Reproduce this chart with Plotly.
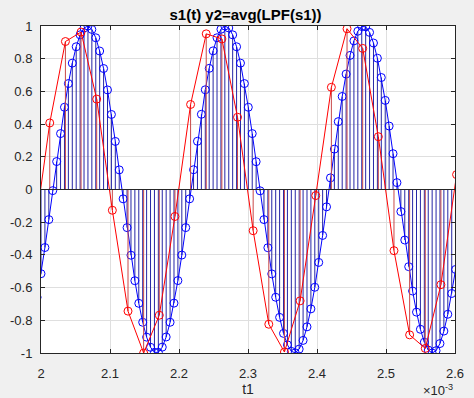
import plotly.graph_objects as go

# s1 samples (time in units of 1e-3 s)
t_s1 = [1.99433, 2.00000, 2.00567, 2.01134, 2.01701, 2.02268, 2.02834, 2.03401, 2.03968, 2.04535,
        2.05102, 2.05669, 2.06236, 2.06803, 2.07370, 2.07937, 2.08503, 2.09070, 2.09637, 2.10204,
        2.10771, 2.11338, 2.11905, 2.12472, 2.13039, 2.13605, 2.14172, 2.14739, 2.15306, 2.15873,
        2.16440, 2.17007, 2.17574, 2.18141, 2.18707, 2.19274, 2.19841, 2.20408, 2.20975, 2.21542,
        2.22109, 2.22676, 2.23243, 2.23810, 2.24376, 2.24943, 2.25510, 2.26077, 2.26644, 2.27211,
        2.27778, 2.28345, 2.28912, 2.29478, 2.30045, 2.30612, 2.31179, 2.31746, 2.32313, 2.32880,
        2.33447, 2.34014, 2.34580, 2.35147, 2.35714, 2.36281, 2.36848, 2.37415, 2.37982, 2.38549,
        2.39116, 2.39683, 2.40249, 2.40816, 2.41383, 2.41950, 2.42517, 2.43084, 2.43651, 2.44218,
        2.44785, 2.45351, 2.45918, 2.46485, 2.47052, 2.47619, 2.48186, 2.48753, 2.49320, 2.49887,
        2.50454, 2.51020, 2.51587, 2.52154, 2.52721, 2.53288, 2.53855, 2.54422, 2.54989, 2.55556,
        2.56122, 2.56689, 2.57256, 2.57823, 2.58390, 2.58957, 2.59524, 2.60091]
s1 = [-0.659, -0.515, -0.355, -0.184, -0.007, 0.171, 0.342, 0.503, 0.648, 0.773,
      0.873, 0.946, 0.988, 1.000, 0.979, 0.928, 0.847, 0.740, 0.609, 0.459,
      0.294, 0.120, -0.057, -0.233, -0.402, -0.558, -0.696, -0.812, -0.903, -0.965,
      -0.996, -0.996, -0.964, -0.902, -0.812, -0.695, -0.557, -0.401, -0.233, -0.057,
      0.121, 0.295, 0.460, 0.610, 0.741, 0.848, 0.928, 0.980, 1.000, 0.988,
      0.946, 0.873, 0.773, 0.648, 0.503, 0.342, 0.170, -0.008, -0.184, -0.356,
      -0.516, -0.659, -0.782, -0.880, -0.950, -0.990, -0.999, -0.976, -0.923, -0.840,
      -0.730, -0.598, -0.446, -0.281, -0.106, 0.071, 0.247, 0.415, 0.569, 0.706,
      0.820, 0.909, 0.968, 0.997, 0.995, 0.961, 0.896, 0.803, 0.685, 0.545,
      0.388, 0.219, 0.042, -0.135, -0.309, -0.472, -0.621, -0.750, -0.855, -0.934,
      -0.982, -1.000, -0.986, -0.942, -0.866, -0.763, -0.636, -0.489]

# y2 samples
t_y2 = [1.99002, 2.01270, 2.03538, 2.05805, 2.08073, 2.10340, 2.12608, 2.14875, 2.17143, 2.19411,
        2.21678, 2.23946, 2.26213, 2.28481, 2.30748, 2.33016, 2.35283, 2.37551, 2.39819, 2.42086,
        2.44354, 2.46621, 2.48889, 2.51156, 2.53424, 2.55692, 2.57959, 2.60227]
y2 = [-0.289, 0.407, 0.905, 0.963, 0.553, -0.127, -0.744, -1.000, -0.769, -0.165,
      0.520, 0.952, 0.921, 0.442, -0.252, -0.824, -0.994, -0.681, -0.037, 0.625,
      0.983, 0.863, 0.323, -0.374, -0.889, -0.972, -0.582, 0.091]

x_ticks = [2.0, 2.1, 2.2, 2.3, 2.4, 2.5, 2.6]
x_ticklabels = ["2", "2.1", "2.2", "2.3", "2.4", "2.5", "2.6"]
y_ticks = [-1, -0.8, -0.6, -0.4, -0.2, 0, 0.2, 0.4, 0.6, 0.8, 1]
y_ticklabels = ["-1", "-0.8", "-0.6", "-0.4", "-0.2", "0", "0.2", "0.4", "0.6", "0.8", "1"]

BLUE = "#0000ff"
RED = "#ff0000"
BLUE_STEM = "#2626a6"
RED_STEM = "#c84848"
FONT = "Liberation Sans, Arial, sans-serif"
AX = "#262626"


def stems(t, v):
    xs, ys = [], []
    for a, b in zip(t, v):
        xs += [a, a, None]
        ys += [0, b, None]
    return xs, ys


fig = go.Figure()
sx, sy = stems(t_s1, s1)
fig.add_trace(go.Scatter(x=sx, y=sy, mode="lines", line=dict(color=BLUE_STEM, width=1),
                         hoverinfo="skip", showlegend=False))
fig.add_trace(go.Scatter(x=t_s1, y=s1, mode="lines+markers", line=dict(color=BLUE, width=1),
                         marker=dict(symbol="circle-open", size=8, color=BLUE, line=dict(width=1)),
                         showlegend=False))
rx, ry = stems(t_y2, y2)
fig.add_trace(go.Scatter(x=rx, y=ry, mode="lines", line=dict(color=RED_STEM, width=1),
                         hoverinfo="skip", showlegend=False))
fig.add_trace(go.Scatter(x=t_y2, y=y2, mode="lines+markers", line=dict(color=RED, width=1),
                         marker=dict(symbol="circle-open", size=8, color=RED, line=dict(width=1)),
                         showlegend=False))
# stem baseline
fig.add_trace(go.Scatter(x=[x_ticks[0], x_ticks[-1]], y=[0, 0], mode="lines",
                         line=dict(color=AX, width=1), hoverinfo="skip", showlegend=False))

fig.update_layout(
    width=474, height=398,
    margin=dict(l=41, r=19, t=26, b=45),
    paper_bgcolor="#f0f0f0", plot_bgcolor="#ffffff",
    font=dict(family=FONT, size=13, color=AX),
    title=dict(text="<b>s1(t) y2=avg(LPF(s1))</b>", x=0.518, xanchor="center",
               y=0.962, yanchor="middle", font=dict(size=15, color="#000000")),
)
fig.update_xaxes(range=[2.0, 2.6], tickvals=x_ticks, ticktext=x_ticklabels,
                 showgrid=True, gridcolor="#dfdfdf", gridwidth=1, zeroline=False,
                 showline=True, linecolor=AX, linewidth=1, mirror="ticks",
                 ticks="inside", ticklen=4, tickcolor=AX, automargin=False,
                 ticklabelstandoff=8,
                 title=dict(text="t1", font=dict(size=14), standoff=3))
fig.update_yaxes(range=[-1, 1], tickvals=y_ticks, ticktext=y_ticklabels,
                 showgrid=True, gridcolor="#dfdfdf", gridwidth=1, zeroline=False,
                 showline=True, linecolor=AX, linewidth=1, mirror="ticks",
                 ticks="inside", ticklen=4, tickcolor=AX, automargin=False,
                 ticklabelstandoff=5)
fig.add_annotation(text="×10<sup>-3</sup>", xref="paper", yref="paper", x=1.0, y=0,
                   xanchor="right", yanchor="middle", yshift=-37, showarrow=False,
                   font=dict(size=13, color=AX))

fig.write_html("out.html", config={"displayModeBar": False},
               post_script="document.body.style.margin='0px';document.body.style.background='#f0f0f0';")
